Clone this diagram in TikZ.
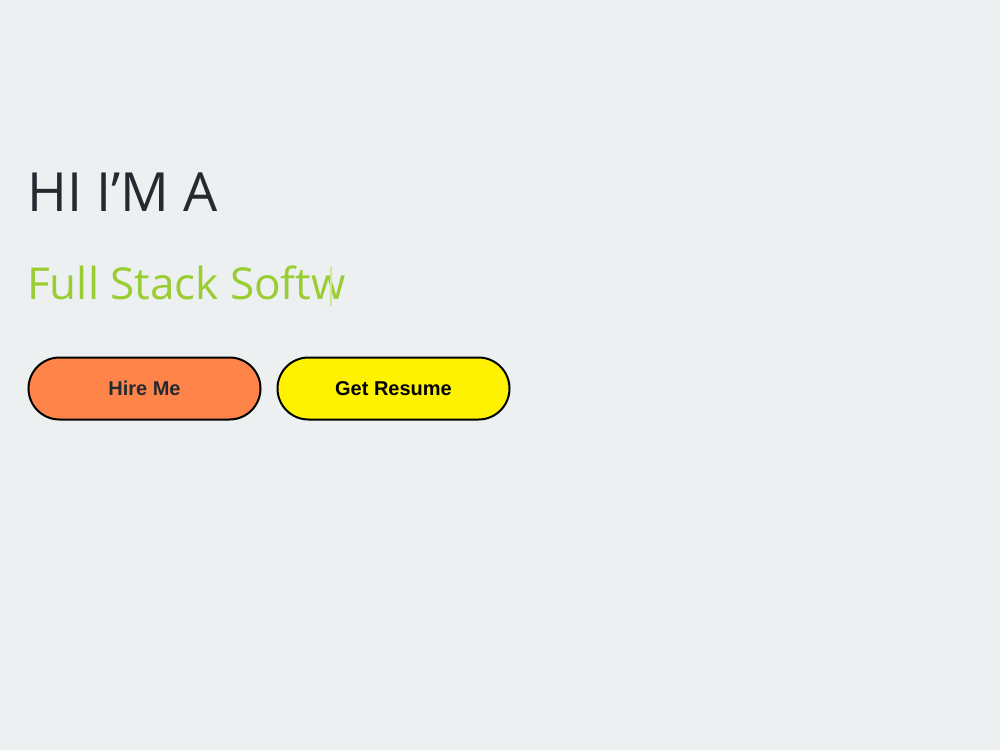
\documentclass[tikz,border=0pt]{standalone}
\usepackage{fontspec}
\setmainfont{Open Sans}
\newfontfamily\btnfont{Liberation Sans}
\definecolor{bg}{HTML}{ECF0F1}
\definecolor{dark}{HTML}{252A31}
\definecolor{lime}{HTML}{9ACD32}
\definecolor{coral}{HTML}{FF844A}
\tikzset{btn/.style={draw=black,line width=2pt,rounded corners=31pt,minimum width=232pt,minimum height=62pt,inner sep=0pt,font=\btnfont\bfseries\fontsize{20}{24}\selectfont}}
\begin{document}
\begin{tikzpicture}[x=1pt,y=-1pt]
\fill[bg] (0,0) rectangle (1000,750);
\useasboundingbox (0,0) rectangle (1000,750);
\node[anchor=base west,inner sep=0pt,text=dark,font=\fontsize{54}{60}\selectfont] (hi) at (27,211) {HI I'M A};
\node[anchor=base west,inner sep=0pt,text=lime,font=\fontsize{44}{50}\selectfont] (role) at (27,299) {Full Stack Softw};
\draw[lime!50,line width=2pt] (331,267) -- (331,306);
\node[btn,fill=coral,text=dark] (hire) at (144.5,388.5) {Hire Me};
\node[btn,fill=yellow,text=black] (resume) at (393.5,388.5) {Get Resume};
\end{tikzpicture}
\end{document}
